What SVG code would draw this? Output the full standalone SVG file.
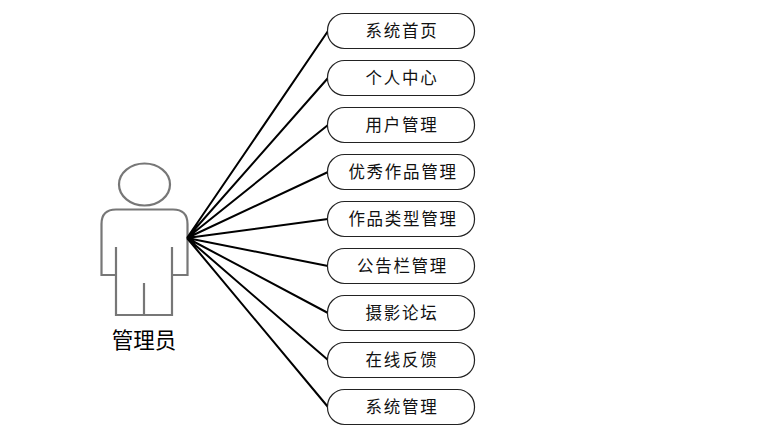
<svg xmlns="http://www.w3.org/2000/svg" width="759" height="439" viewBox="0 0 759 439">
<style>
.pill{fill:#fff;stroke:#222;stroke-width:1.2}
.t{font-family:"Noto Sans CJK SC","Noto Sans CJK JP",sans-serif;font-size:16.500px;font-weight:400;letter-spacing:1.700px;fill:#111;text-anchor:middle}
.c{stroke:#000;stroke-width:2;fill:none}
.a{fill:none;stroke:#777;stroke-width:2.200}
</style>
<rect width="759" height="439" fill="#fff"/>
<g id="actor">
<ellipse class="a" cx="144.500" cy="184.500" rx="25.500" ry="21"/>
<path class="a" d="M116 247V275H101.500V224Q101.500 209.500 116 209.500H173Q187.500 209.500 187.500 224V275H172V247M116 275V315H172V275M144 283V315"/>
<text x="144" y="348" font-family="'Noto Sans CJK SC',sans-serif" font-size="21.500" text-anchor="middle" fill="#000">管理员</text>
</g>
<g id="connectors">
<path class="c" d="M187 238L328 31M187 238L328 78M187 238L328 125M187 238L328 172M187 238L328 219M187 238L328 266M187 238L328 313M187 238L328 360M187 238L328 407"/>
</g>
<g id="n1"><rect class="pill" x="327.500" y="13.500" width="147" height="35" rx="17"/><text class="t" x="402" y="37">系统首页</text></g>
<g id="n2"><rect class="pill" x="327.500" y="60.500" width="147" height="35" rx="17"/><text class="t" x="402" y="84">个人中心</text></g>
<g id="n3"><rect class="pill" x="327.500" y="107.500" width="147" height="35" rx="17"/><text class="t" x="402" y="131">用户管理</text></g>
<g id="n4"><rect class="pill" x="327.500" y="154.500" width="147" height="35" rx="17"/><text class="t" x="403" y="178">优秀作品管理</text></g>
<g id="n5"><rect class="pill" x="327.500" y="201.500" width="147" height="35" rx="17"/><text class="t" x="403" y="225">作品类型管理</text></g>
<g id="n6"><rect class="pill" x="327.500" y="248.500" width="147" height="35" rx="17"/><text class="t" x="402.500" y="272">公告栏管理</text></g>
<g id="n7"><rect class="pill" x="327.500" y="295.500" width="147" height="35" rx="17"/><text class="t" x="402" y="319">摄影论坛</text></g>
<g id="n8"><rect class="pill" x="327.500" y="342.500" width="147" height="35" rx="17"/><text class="t" x="402" y="366">在线反馈</text></g>
<g id="n9"><rect class="pill" x="327.500" y="389.500" width="147" height="35" rx="17"/><text class="t" x="402" y="413">系统管理</text></g>
</svg>
